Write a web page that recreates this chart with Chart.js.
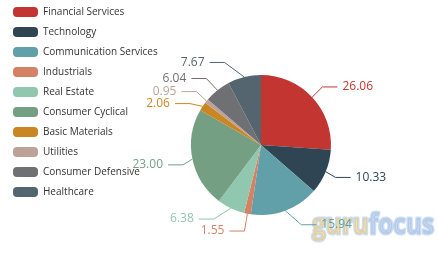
<!DOCTYPE html>
<html><head><meta charset="utf-8">
<script src="https://cdn.jsdelivr.net/npm/chart.js@4/dist/chart.umd.min.js"></script>
<style>html,body{margin:0;padding:0;background:#fff;overflow:hidden}canvas{display:block}</style>
</head><body>
<canvas id="c" width="438" height="253"></canvas>
<script>
const categories = ["Financial Services","Technology","Communication Services","Industrials","Real Estate","Consumer Cyclical","Basic Materials","Utilities","Consumer Defensive","Healthcare"];
const values = [26.06, 10.33, 15.94, 1.55, 6.38, 23.00, 2.06, 0.95, 6.04, 7.67];
const valueLabels = ["26.06","10.33","15.94","1.55","6.38","23.00","2.06","0.95","6.04","7.67"];
const colors = ["#c23531","#2f4554","#61a0a8","#d48265","#91c7ae","#749f83","#ca8622","#bda29a","#6e7074","#546570"];

const FONT = '"Open Sans", "Liberation Sans", sans-serif';
const LEN = 15, LEN2 = 15, DIST = 5, LH = 12;

function adjustSingleSide(list, cx, cy, r, dir, viewHeight) {
  list.sort((a, b) => a.y - b.y);
  function shiftDown(start, end, delta) {
    for (let j = start; j < end; j++) {
      if (list[j].y + delta > viewHeight) break;
      list[j].y += delta;
      if (j > start && j + 1 < end && list[j + 1].y > list[j].y + list[j].height) {
        shiftUp(j, delta / 2);
        return;
      }
    }
    shiftUp(end - 1, delta / 2);
  }
  function shiftUp(end, delta) {
    for (let j = end; j >= 0; j--) {
      if (list[j].y - delta < 0) break;
      list[j].y -= delta;
      if (j > 0 && list[j].y > list[j - 1].y + list[j - 1].height) break;
    }
  }
  function changeX(arr, isDown) {
    let last = isDown ? Number.MAX_VALUE : 0;
    for (const it of arr) {
      const dY = Math.abs(it.y - cy);
      let dX = dY < r + it.len ? Math.sqrt((r + it.len + it.len2) ** 2 - dY * dY) : Math.abs(it.x - cx);
      if (isDown && dX >= last) dX = last - 10;
      if (!isDown && dX <= last) dX = last + 10;
      it.x = cx + dX * dir;
      last = dX;
    }
  }
  let lastY = 0;
  const n = list.length;
  for (let i = 0; i < n; i++) {
    const d = list[i].y - lastY;
    if (d < 0) shiftDown(i, n, -d);
    lastY = list[i].y + list[i].height;
  }
  if (viewHeight - lastY < 0) shiftUp(n - 1, lastY - viewHeight);
  const up = [], down = [];
  for (const it of list) (it.y >= cy ? down : up).push(it);
  changeX(up, false);
  changeX(down, true);
}

const labelPlugin = {
  id: 'pieLabels',
  afterDatasetsDraw(chart) {
    const ctx = chart.ctx;
    const meta = chart.getDatasetMeta(0);
    let cx = 0, cy = 0, R = 0;
    const items = meta.data.map((arc, i) => {
      const p = arc.getProps(['x', 'y', 'startAngle', 'endAngle', 'outerRadius'], true);
      cx = p.x; cy = p.y; R = p.outerRadius;
      const mid = (p.startAngle + p.endAngle) / 2;
      const dx = Math.cos(mid), dy = Math.sin(mid);
      const x1 = p.x + R * dx, y1 = p.y + R * dy;
      const x2 = x1 + dx * LEN, y2 = y1 + dy * LEN;
      const x3 = x2 + (dx < 0 ? -1 : 1) * LEN2;
      return { i, x: x3 + (dx < 0 ? -DIST : DIST), y: y2, height: LH, len: LEN, len2: LEN2, x1, y1, dist: x2 - x3 };
    });
    const left = items.filter(it => it.x < cx), right = items.filter(it => it.x >= cx);
    adjustSingleSide(right, cx, cy, R, 1, chart.height);
    adjustSingleSide(left, cx, cy, R, -1, chart.height);
    ctx.save();
    ctx.font = '12px ' + FONT;
    ctx.textBaseline = 'middle';
    ctx.lineWidth = 1;
    for (const it of items) {
      const isLeft = it.x < cx;
      const endX = isLeft ? it.x + DIST : it.x - DIST;
      const elbowX = endX + it.dist;
      ctx.strokeStyle = colors[it.i];
      ctx.beginPath();
      ctx.moveTo(it.x1, it.y1);
      ctx.lineTo(elbowX, it.y);
      ctx.lineTo(endX, it.y);
      ctx.stroke();
      ctx.fillStyle = colors[it.i];
      ctx.textAlign = isLeft ? 'right' : 'left';
      ctx.fillText(valueLabels[it.i], it.x, it.y);
    }
    ctx.restore();
  }
};

const legendPlugin = {
  id: 'sideLegend',
  afterDraw(chart) {
    const ctx = chart.ctx;
    ctx.save();
    ctx.font = '10px ' + FONT;
    ctx.textBaseline = 'middle';
    ctx.textAlign = 'left';
    categories.forEach((name, i) => {
      const yc = 12 + i * 20;
      ctx.fillStyle = colors[i];
      ctx.beginPath();
      ctx.roundRect(13, yc - 5, 25, 10, 4);
      ctx.fill();
      ctx.fillStyle = '#333';
      ctx.fillText(name, 43, yc + 0.5);
    });
    ctx.restore();
  }
};

const watermarkPlugin = {
  id: 'watermark',
  beforeDatasetsDraw(chart) {
    const ctx = chart.ctx;
    ctx.save();
    ctx.font = 'bold 28px "Open Sans", "Liberation Sans", sans-serif';
    ctx.textBaseline = 'alphabetic';
    ctx.textAlign = 'left';
    const w1 = ctx.measureText('guru').width, w2 = ctx.measureText('focus').width;
    const sx = 122 / (w1 + w2);
    ctx.translate(312, 234);
    ctx.scale(sx, 1);
    ctx.globalAlpha = 0.5;
    ctx.lineWidth = 3;
    ctx.lineJoin = 'round';
    ctx.strokeStyle = '#9dbbe6';
    ctx.strokeText('guru', 0, 0);
    ctx.strokeText('focus', w1, 0);
    ctx.fillStyle = '#f2c65a';
    ctx.fillText('guru', 0, 0);
    ctx.fillStyle = '#98b8e4';
    ctx.fillText('focus', w1, 0);
    ctx.restore();
  }
};

new Chart(document.getElementById('c'), {
  type: 'pie',
  data: {
    labels: categories,
    datasets: [{ data: values, backgroundColor: colors, borderWidth: 0, radius: 70 }]
  },
  options: {
    responsive: false,
    devicePixelRatio: 1,
    animation: false,
    layout: { padding: { left: 160, right: 76, top: 60, bottom: 23 } },
    plugins: { legend: { display: false }, tooltip: { enabled: false } },
    events: []
  },
  plugins: [watermarkPlugin, labelPlugin, legendPlugin]
});
</script>
</body></html>
